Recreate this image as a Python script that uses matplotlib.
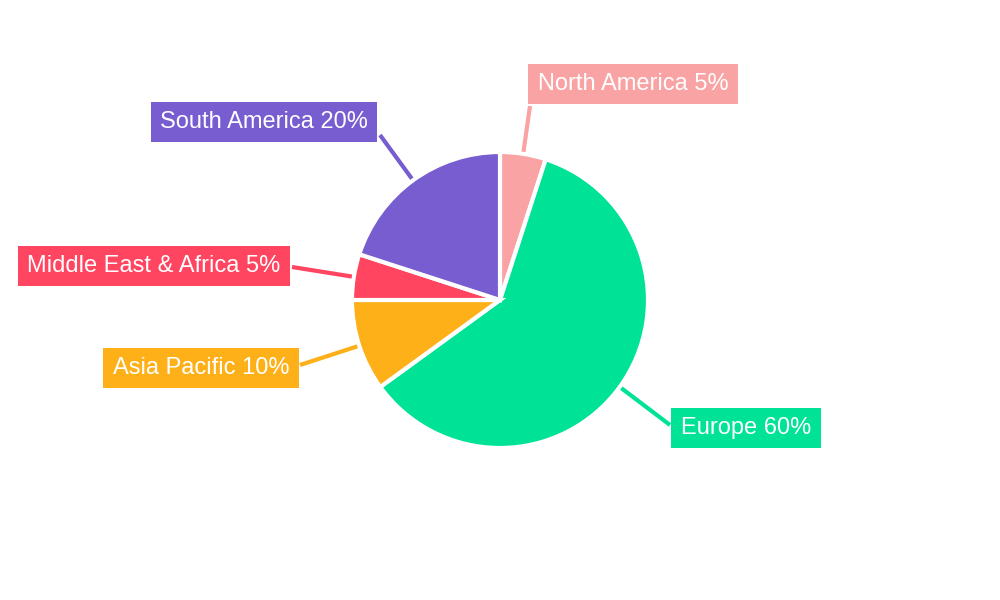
import numpy as np
import matplotlib.pyplot as plt

regions = ['North America', 'Europe', 'Asia Pacific', 'Middle East & Africa', 'South America']
shares = [5, 60, 10, 5, 20]
colors = ['#F9A3A4', '#00E396', '#FEB019', '#FF4560', '#775DD0']
# label box centres (pixel coords, y from top)
label_pos = [(633, 84), (746, 428), (201, 368), (154, 266), (264, 122)]
line_end = [(530, 106), (670, 425), (300, 365), (292, 267), (380, 135)]

plt.rcParams['font.family'] = ['Liberation Sans', 'DejaVu Sans']
fig = plt.figure(figsize=(10, 6), dpi=100)
ax = fig.add_axes([0, 0, 1, 1])

cx, cy, r = 500, 300, 148
wedges, _ = ax.pie(shares, colors=colors, startangle=90, counterclock=False,
                   center=(cx, cy), radius=r, frame=True,
                   wedgeprops=dict(edgecolor='white', linewidth=3))
ax.set_xlim(0, 1000)
ax.set_ylim(0, 600)
ax.set_aspect('equal')
ax.axis('off')

for w, name, s, c, (lx, ly), (ex, ey) in zip(wedges, regions, shares, colors, label_pos, line_end):
    ang = np.deg2rad((w.theta1 + w.theta2) / 2)
    sx, sy = cx + (r + 2) * np.cos(ang), cy + (r + 2) * np.sin(ang)
    ax.plot([sx, ex], [sy, 600 - ey], color=c, linewidth=3, solid_capstyle='butt')
    ax.text(lx, 600 - ly, f'{name} {s}%', ha='center', va='center', fontsize=17,
            color='white', bbox=dict(boxstyle='square,pad=0.4', facecolor=c, edgecolor='none'))

fig.savefig('out.png', dpi=100)
